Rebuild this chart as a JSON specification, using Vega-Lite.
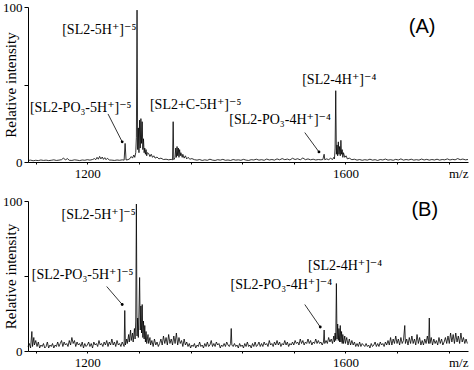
{
"$schema": "https://vega.github.io/schema/vega-lite/v6.json",
"background": "white",
"padding": {"left": 2, "top": 1, "right": 4, "bottom": 2},
"spacing": 15,
"config": {
  "view": {"stroke": null},
  "axis": {"labelFont": "Liberation Serif", "titleFont": "Liberation Serif", "labelColor": "black", "titleColor": "black", "domainColor": "black", "tickColor": "black", "grid": false, "labelFontSize": 13, "titleFontSize": 15, "titleFontWeight": "normal", "domainWidth": 1, "tickWidth": 1}
},
"datasets": {
  "a": [
    {"mz":1108,"i":1.0},{"mz":1112,"i":1.2},{"mz":1116,"i":0.8},{"mz":1120,"i":1.1},{"mz":1124,"i":0.9},{"mz":1128,"i":1.3},{"mz":1132,"i":1.0},{"mz":1136,"i":1.2},{"mz":1140,"i":0.9},{"mz":1144,"i":1.1},{"mz":1148,"i":1.4},{"mz":1152,"i":1.0},{"mz":1156,"i":1.2},{"mz":1160,"i":1.5},{"mz":1163,"i":2.6},{"mz":1166,"i":1.3},{"mz":1169,"i":2.2},{"mz":1172,"i":1.1},{"mz":1176,"i":1.0},{"mz":1180,"i":1.4},{"mz":1184,"i":1.2},{"mz":1188,"i":0.9},{"mz":1192,"i":1.3},{"mz":1196,"i":1.1},{"mz":1200,"i":1.5},{"mz":1204,"i":1.2},{"mz":1208,"i":1.6},{"mz":1211,"i":2.2},{"mz":1213,"i":1.5},{"mz":1215,"i":3.0},{"mz":1217,"i":1.8},{"mz":1219,"i":3.6},{"mz":1221,"i":2.0},{"mz":1223,"i":3.2},{"mz":1225,"i":1.7},{"mz":1227,"i":2.8},{"mz":1229,"i":1.5},{"mz":1231,"i":2.4},{"mz":1234,"i":1.3},{"mz":1238,"i":1.2},{"mz":1242,"i":1.0},{"mz":1246,"i":1.3},{"mz":1250,"i":1.1},{"mz":1254,"i":1.4},{"mz":1257,"i":1.2},{"mz":1258.5,"i":12},{"mz":1260,"i":1.3},{"mz":1263,"i":1.5},{"mz":1266,"i":2.2},{"mz":1268,"i":3.5},{"mz":1270,"i":2.5},{"mz":1272,"i":4.5},{"mz":1273.5,"i":3},{"mz":1275,"i":6},{"mz":1276,"i":16},{"mz":1277,"i":98},{"mz":1278,"i":8},{"mz":1279,"i":22},{"mz":1280,"i":6},{"mz":1281,"i":27},{"mz":1282,"i":9},{"mz":1283,"i":28},{"mz":1284,"i":12},{"mz":1285,"i":26},{"mz":1286,"i":8},{"mz":1287,"i":15},{"mz":1288,"i":6},{"mz":1289,"i":9},{"mz":1290,"i":5},{"mz":1291,"i":8},{"mz":1292,"i":4},{"mz":1293,"i":6},{"mz":1295,"i":5.5},{"mz":1297,"i":3.5},{"mz":1299,"i":5},{"mz":1301,"i":3},{"mz":1303,"i":4},{"mz":1305,"i":2.5},{"mz":1308,"i":3.2},{"mz":1311,"i":2},{"mz":1314,"i":2.5},{"mz":1318,"i":1.6},{"mz":1322,"i":1.8},{"mz":1326,"i":1.4},{"mz":1330,"i":1.7},{"mz":1332,"i":1.4},{"mz":1333,"i":26},{"mz":1334,"i":1.5},{"mz":1336,"i":3},{"mz":1337,"i":9},{"mz":1338,"i":3},{"mz":1339,"i":10},{"mz":1340,"i":4},{"mz":1341,"i":9},{"mz":1342,"i":3},{"mz":1343,"i":8},{"mz":1344,"i":4},{"mz":1345,"i":6},{"mz":1347,"i":3},{"mz":1348,"i":5},{"mz":1350,"i":2.5},{"mz":1352,"i":4},{"mz":1354,"i":2},{"mz":1356,"i":3},{"mz":1359,"i":1.8},{"mz":1362,"i":2.2},{"mz":1366,"i":1.5},
    {"mz":1370,"i":1.2},{"mz":1374,"i":1.6},{"mz":1378,"i":1.0},{"mz":1382,"i":1.4},{"mz":1386,"i":1.1},{"mz":1390,"i":1.8},{"mz":1394,"i":1.2},{"mz":1398,"i":1.0},{"mz":1402,"i":1.5},{"mz":1406,"i":1.2},{"mz":1410,"i":1.7},{"mz":1414,"i":1.1},{"mz":1418,"i":1.3},{"mz":1422,"i":1.0},{"mz":1426,"i":1.6},{"mz":1430,"i":1.2},{"mz":1434,"i":1.4},{"mz":1438,"i":1.1},{"mz":1442,"i":1.7},{"mz":1446,"i":1.2},{"mz":1450,"i":1.0},{"mz":1454,"i":1.5},{"mz":1458,"i":1.3},{"mz":1462,"i":1.8},{"mz":1466,"i":1.2},{"mz":1470,"i":1.5},{"mz":1474,"i":1.1},{"mz":1478,"i":1.9},{"mz":1482,"i":1.3},{"mz":1486,"i":1.6},{"mz":1490,"i":1.2},{"mz":1494,"i":2.0},{"mz":1498,"i":1.4},{"mz":1502,"i":2.2},{"mz":1506,"i":1.5},{"mz":1510,"i":1.9},{"mz":1514,"i":1.3},{"mz":1518,"i":2.4},{"mz":1522,"i":1.6},{"mz":1526,"i":2.1},{"mz":1530,"i":1.4},{"mz":1534,"i":2.6},{"mz":1538,"i":1.5},{"mz":1542,"i":2.0},{"mz":1546,"i":1.4},{"mz":1550,"i":1.8},{"mz":1554,"i":1.3},{"mz":1558,"i":1.6},{"mz":1562,"i":1.4},{"mz":1565,"i":1.6},{"mz":1567,"i":5.0},{"mz":1568,"i":1.5},{"mz":1571,"i":2.0},{"mz":1574,"i":1.5},{"mz":1577,"i":2.4},{"mz":1580,"i":1.6},{"mz":1582,"i":3.0},{"mz":1583,"i":2.0},{"mz":1584,"i":9},{"mz":1585,"i":46},{"mz":1586,"i":5},{"mz":1587,"i":11},{"mz":1588,"i":4},{"mz":1589,"i":13},{"mz":1590,"i":5},{"mz":1591,"i":10},{"mz":1592,"i":4},{"mz":1593,"i":14},{"mz":1594,"i":5},{"mz":1595,"i":8},{"mz":1596,"i":3},{"mz":1597,"i":6},{"mz":1599,"i":3},{"mz":1601,"i":4},{"mz":1603,"i":2},{"mz":1606,"i":2.5},{"mz":1610,"i":1.5},{"mz":1614,"i":1.8},{"mz":1618,"i":1.2},{"mz":1622,"i":1.6},{"mz":1626,"i":1.1},{"mz":1630,"i":1.5},{"mz":1634,"i":1.2},{"mz":1638,"i":1.8},{"mz":1642,"i":1.2},{"mz":1646,"i":1.5},{"mz":1650,"i":1.0},{"mz":1654,"i":1.6},{"mz":1658,"i":1.3},{"mz":1662,"i":1.9},{"mz":1666,"i":1.2},{"mz":1670,"i":1.5},{"mz":1674,"i":1.1},{"mz":1678,"i":1.7},{"mz":1682,"i":1.3},{"mz":1686,"i":2.0},{"mz":1690,"i":1.2},{"mz":1694,"i":1.6},{"mz":1698,"i":1.3},{"mz":1702,"i":1.8},{"mz":1706,"i":1.2},{"mz":1710,"i":1.5},{"mz":1714,"i":1.2},{"mz":1718,"i":1.9},{"mz":1722,"i":1.3},{"mz":1726,"i":1.7},{"mz":1730,"i":1.2},{"mz":1734,"i":1.6},{"mz":1738,"i":1.3},{"mz":1742,"i":1.8},{"mz":1746,"i":1.2},{"mz":1750,"i":1.6},{"mz":1754,"i":1.4},{"mz":1758,"i":2.0},{"mz":1762,"i":1.3},{"mz":1766,"i":1.7},{"mz":1770,"i":1.4},{"mz":1774,"i":2.2},{"mz":1778,"i":1.5},{"mz":1782,"i":1.9},{"mz":1786,"i":1.4},{"mz":1790,"i":1.6}
  ],
  "b": [
    {"mz":1108,"i":3},{"mz":1110,"i":5},{"mz":1112,"i":2},{"mz":1114,"i":13},{"mz":1115,"i":3},{"mz":1117,"i":9},{"mz":1118,"i":4},{"mz":1120,"i":7},{"mz":1122,"i":3},{"mz":1124,"i":6},{"mz":1126,"i":2},{"mz":1128,"i":4},{"mz":1130,"i":3},{"mz":1132,"i":5},{"mz":1134,"i":2},{"mz":1136,"i":3},{"mz":1138,"i":6},{"mz":1140,"i":2},{"mz":1142,"i":4},{"mz":1144,"i":3},{"mz":1146,"i":5},{"mz":1148,"i":2},{"mz":1150,"i":4},{"mz":1152,"i":3},{"mz":1154,"i":6},{"mz":1156,"i":3},{"mz":1158,"i":5},{"mz":1160,"i":7},{"mz":1162,"i":3},{"mz":1164,"i":6},{"mz":1166,"i":4},{"mz":1168,"i":5},{"mz":1170,"i":3},{"mz":1172,"i":7},{"mz":1174,"i":4},{"mz":1176,"i":9},{"mz":1178,"i":5},{"mz":1180,"i":7},{"mz":1182,"i":3},{"mz":1184,"i":6},{"mz":1186,"i":4},{"mz":1188,"i":5},{"mz":1190,"i":3},{"mz":1192,"i":6},{"mz":1194,"i":2},{"mz":1196,"i":5},{"mz":1198,"i":3},{"mz":1200,"i":4},{"mz":1202,"i":6},{"mz":1204,"i":3},{"mz":1206,"i":5},{"mz":1208,"i":2},{"mz":1210,"i":6},{"mz":1212,"i":4},{"mz":1214,"i":5},{"mz":1216,"i":3},{"mz":1218,"i":7},{"mz":1220,"i":4},{"mz":1222,"i":5},{"mz":1224,"i":3},{"mz":1226,"i":6},{"mz":1228,"i":4},{"mz":1230,"i":7},{"mz":1232,"i":3},{"mz":1234,"i":6},{"mz":1236,"i":4},{"mz":1238,"i":8},{"mz":1240,"i":4},{"mz":1242,"i":6},{"mz":1244,"i":3},{"mz":1246,"i":7},{"mz":1248,"i":4},{"mz":1250,"i":5},{"mz":1252,"i":3},{"mz":1254,"i":6},{"mz":1256,"i":4},{"mz":1257,"i":3},{"mz":1258,"i":27},{"mz":1259,"i":4},{"mz":1261,"i":8},{"mz":1262,"i":5},{"mz":1264,"i":11},{"mz":1265,"i":6},{"mz":1267,"i":14},{"mz":1268,"i":7},{"mz":1270,"i":12},{"mz":1271,"i":6},{"mz":1273,"i":15},{"mz":1274,"i":8},{"mz":1275,"i":20},{"mz":1276,"i":98},{"mz":1277,"i":10},{"mz":1278,"i":22},{"mz":1279,"i":9},{"mz":1280,"i":26},{"mz":1281,"i":49},{"mz":1282,"i":14},{"mz":1283,"i":30},{"mz":1284,"i":12},{"mz":1285,"i":31},{"mz":1286,"i":9},{"mz":1287,"i":20},{"mz":1288,"i":8},{"mz":1289,"i":17},{"mz":1290,"i":6},{"mz":1291,"i":13},{"mz":1292,"i":5},{"mz":1294,"i":11},{"mz":1295,"i":5},{"mz":1297,"i":9},{"mz":1298,"i":4},{"mz":1300,"i":7},{"mz":1302,"i":3},{"mz":1304,"i":8},{"mz":1306,"i":4},{"mz":1308,"i":6},{"mz":1310,"i":3},{"mz":1312,"i":5},{"mz":1314,"i":8},{"mz":1316,"i":4},{"mz":1318,"i":10},{"mz":1320,"i":5},{"mz":1322,"i":9},{"mz":1324,"i":4},{"mz":1326,"i":11},{"mz":1328,"i":5},{"mz":1330,"i":8},{"mz":1332,"i":4},{"mz":1334,"i":10},{"mz":1336,"i":5},{"mz":1338,"i":12},{"mz":1340,"i":4},{"mz":1342,"i":9},{"mz":1344,"i":5},{"mz":1346,"i":7},{"mz":1348,"i":3},{"mz":1350,"i":8},{"mz":1352,"i":4},{"mz":1354,"i":6},{"mz":1356,"i":3},{"mz":1358,"i":5},{"mz":1360,"i":2},{"mz":1362,"i":4},{"mz":1364,"i":3},{"mz":1366,"i":5},{"mz":1368,"i":2},{"mz":1370,"i":4},{"mz":1372,"i":3},{"mz":1374,"i":6},{"mz":1376,"i":3},{"mz":1378,"i":4},{"mz":1380,"i":2},{"mz":1382,"i":5},{"mz":1384,"i":3},{"mz":1386,"i":6},{"mz":1388,"i":3},{"mz":1390,"i":4},{"mz":1392,"i":7},{"mz":1394,"i":3},{"mz":1396,"i":5},{"mz":1398,"i":3},{"mz":1400,"i":6},{"mz":1402,"i":4},{"mz":1404,"i":5},{"mz":1406,"i":2},{"mz":1408,"i":4},{"mz":1410,"i":3},{"mz":1412,"i":5},{"mz":1414,"i":3},{"mz":1416,"i":6},{"mz":1418,"i":4},{"mz":1420,"i":3},{"mz":1422,"i":5},{"mz":1423,"i":15},{"mz":1424,"i":4},{"mz":1426,"i":3},{"mz":1428,"i":5},{"mz":1430,"i":3},{"mz":1432,"i":4},{"mz":1434,"i":2},{"mz":1436,"i":5},{"mz":1438,"i":3},{"mz":1440,"i":4},{"mz":1442,"i":2},{"mz":1444,"i":5},{"mz":1446,"i":3},{"mz":1448,"i":6},{"mz":1450,"i":3},{"mz":1452,"i":4},{"mz":1454,"i":2},{"mz":1456,"i":5},{"mz":1458,"i":3},{"mz":1460,"i":6},{"mz":1462,"i":3},{"mz":1464,"i":4},{"mz":1466,"i":6},{"mz":1468,"i":3},{"mz":1470,"i":5},{"mz":1472,"i":3},{"mz":1474,"i":6},{"mz":1476,"i":4},{"mz":1478,"i":5},{"mz":1480,"i":3},{"mz":1482,"i":7},{"mz":1484,"i":4},{"mz":1486,"i":5},{"mz":1488,"i":3},{"mz":1490,"i":6},{"mz":1492,"i":4},{"mz":1494,"i":7},{"mz":1496,"i":4},{"mz":1498,"i":6},{"mz":1500,"i":3},{"mz":1502,"i":5},{"mz":1504,"i":4},{"mz":1506,"i":7},{"mz":1508,"i":4},{"mz":1510,"i":6},{"mz":1512,"i":3},{"mz":1514,"i":5},{"mz":1516,"i":4},{"mz":1518,"i":6},{"mz":1520,"i":4},{"mz":1522,"i":7},{"mz":1524,"i":5},{"mz":1526,"i":6},{"mz":1528,"i":4},{"mz":1530,"i":8},{"mz":1532,"i":5},{"mz":1534,"i":7},{"mz":1536,"i":4},{"mz":1538,"i":6},{"mz":1540,"i":5},{"mz":1542,"i":8},{"mz":1544,"i":5},{"mz":1546,"i":7},{"mz":1548,"i":4},{"mz":1550,"i":6},{"mz":1552,"i":5},{"mz":1554,"i":8},{"mz":1556,"i":5},{"mz":1558,"i":7},{"mz":1560,"i":5},{"mz":1562,"i":6},{"mz":1564,"i":4},{"mz":1566,"i":6},{"mz":1567,"i":14},{"mz":1568,"i":5},{"mz":1570,"i":7},{"mz":1572,"i":5},{"mz":1574,"i":9},{"mz":1576,"i":6},{"mz":1578,"i":8},{"mz":1580,"i":5},{"mz":1582,"i":10},{"mz":1583,"i":6},{"mz":1584,"i":12},{"mz":1585,"i":7},{"mz":1586,"i":45},{"mz":1587,"i":8},{"mz":1588,"i":18},{"mz":1589,"i":7},{"mz":1590,"i":15},{"mz":1591,"i":6},{"mz":1592,"i":17},{"mz":1593,"i":6},{"mz":1594,"i":13},{"mz":1595,"i":5},{"mz":1596,"i":11},{"mz":1597,"i":5},{"mz":1599,"i":10},{"mz":1600,"i":5},{"mz":1602,"i":9},{"mz":1604,"i":4},{"mz":1606,"i":8},{"mz":1608,"i":4},{"mz":1610,"i":7},{"mz":1612,"i":4},{"mz":1614,"i":6},{"mz":1616,"i":3},{"mz":1618,"i":5},{"mz":1620,"i":3},{"mz":1622,"i":6},{"mz":1624,"i":3},{"mz":1626,"i":5},{"mz":1628,"i":4},{"mz":1630,"i":3},{"mz":1632,"i":5},{"mz":1634,"i":3},{"mz":1636,"i":4},{"mz":1638,"i":2},{"mz":1640,"i":5},{"mz":1642,"i":3},{"mz":1644,"i":4},{"mz":1646,"i":6},{"mz":1648,"i":3},{"mz":1650,"i":5},{"mz":1652,"i":3},{"mz":1654,"i":6},{"mz":1656,"i":4},{"mz":1658,"i":5},{"mz":1660,"i":3},{"mz":1662,"i":6},{"mz":1664,"i":4},{"mz":1666,"i":7},{"mz":1668,"i":4},{"mz":1670,"i":9},{"mz":1672,"i":4},{"mz":1674,"i":8},{"mz":1676,"i":5},{"mz":1678,"i":10},{"mz":1680,"i":5},{"mz":1682,"i":8},{"mz":1684,"i":4},{"mz":1686,"i":9},{"mz":1688,"i":5},{"mz":1690,"i":7},{"mz":1692,"i":17},{"mz":1693,"i":5},{"mz":1695,"i":8},{"mz":1697,"i":4},{"mz":1699,"i":9},{"mz":1701,"i":5},{"mz":1703,"i":10},{"mz":1705,"i":5},{"mz":1707,"i":8},{"mz":1709,"i":4},{"mz":1711,"i":11},{"mz":1713,"i":5},{"mz":1715,"i":9},{"mz":1717,"i":4},{"mz":1719,"i":7},{"mz":1721,"i":4},{"mz":1723,"i":8},{"mz":1725,"i":5},{"mz":1727,"i":10},{"mz":1729,"i":5},{"mz":1730,"i":22},{"mz":1731,"i":5},{"mz":1733,"i":9},{"mz":1735,"i":4},{"mz":1737,"i":8},{"mz":1739,"i":5},{"mz":1741,"i":7},{"mz":1743,"i":4},{"mz":1745,"i":9},{"mz":1747,"i":5},{"mz":1749,"i":8},{"mz":1751,"i":4},{"mz":1753,"i":6},{"mz":1755,"i":9},{"mz":1757,"i":5},{"mz":1759,"i":10},{"mz":1761,"i":5},{"mz":1763,"i":12},{"mz":1765,"i":6},{"mz":1767,"i":11},{"mz":1769,"i":5},{"mz":1771,"i":12},{"mz":1773,"i":6},{"mz":1775,"i":10},{"mz":1777,"i":5},{"mz":1779,"i":12},{"mz":1781,"i":6},{"mz":1783,"i":9},{"mz":1785,"i":5},{"mz":1787,"i":8},{"mz":1789,"i":5}
  ],
  "labA": [
    {"mz":1161,"i":85,"label":"[SL2-5H⁺]⁻⁵"},
    {"mz":1111,"i":35,"label":"[SL2-PO₃-5H⁺]⁻⁵"},
    {"mz":1297,"i":37,"label":"[SL2+C-5H⁺]⁻⁵"},
    {"mz":1533,"i":53,"label":"[SL2-4H⁺]⁻⁴"},
    {"mz":1420,"i":27,"label":"[SL2-PO₃-4H⁺]⁻⁴"}
  ],
  "labB": [
    {"mz":1160,"i":91,"label":"[SL2-5H⁺]⁻⁵"},
    {"mz":1114,"i":51,"label":"[SL2-PO₃-5H⁺]⁻⁵"},
    {"mz":1542,"i":57,"label":"[SL2-4H⁺]⁻⁴"},
    {"mz":1422,"i":44,"label":"[SL2-PO₃-4H⁺]⁻⁴"}
  ],
  "arrA": [
    {"mz":1232,"i":31,"mz2":1254,"i2":13},
    {"mz":1537,"i":19,"mz2":1559,"i2":6.5}
  ],
  "arrB": [
    {"mz":1230,"i":43,"mz2":1254,"i2":31},
    {"mz":1537,"i":31,"mz2":1561,"i2":16}
  ],
  "tagA": [{"mz":1719,"i":87,"label":"(A)"}],
  "tagB": [{"mz":1723,"i":94,"label":"(B)"}]
},
"vconcat": [
  {
    "width": 440, "height": 155,
    "layer": [
      {"data": {"name": "a"}, "mark": {"type": "line", "color": "black", "strokeWidth": 0.8},
       "encoding": {
         "x": {"field": "mz", "type": "quantitative", "scale": {"domain": [1108, 1790], "nice": false, "zero": false},
               "axis": {"title": "m/z", "values": [1120,1140,1160,1180,1200,1220,1240,1260,1280,1300,1320,1340,1360,1380,1400,1420,1440,1460,1480,1500,1520,1540,1560,1580,1600,1620,1640,1660,1680,1700,1720,1740,1760,1780], "format": "d", "labelExpr": "datum.value % 200 == 0 ? datum.label : ''", "tickSize": 2, "labelPadding": 3, "titleFontSize": 13, "titleX": 440, "titleY": 5, "titleAlign": "right", "titleBaseline": "top", "titleAnchor": "end"}},
         "y": {"field": "i", "type": "quantitative", "scale": {"domain": [0, 100], "nice": false},
               "axis": {"title": "Relative intensity", "values": [0, 50, 100], "labelExpr": "datum.value == 50 ? '' : datum.label", "tickSize": 4, "labelPadding": 2, "titleX": -10, "titleBaseline": "bottom"}}
       }},
      {"data": {"name": "labA"}, "mark": {"type": "text", "align": "left", "baseline": "middle", "font": "Liberation Serif, DejaVu Serif", "fontSize": 14, "color": "black"},
       "encoding": {"x": {"field": "mz", "type": "quantitative"}, "y": {"field": "i", "type": "quantitative"}, "text": {"field": "label"}}},
      {"data": {"name": "arrA"}, "mark": {"type": "rule", "color": "black", "strokeWidth": 0.8},
       "encoding": {"x": {"field": "mz", "type": "quantitative"}, "y": {"field": "i", "type": "quantitative"}, "x2": {"field": "mz2"}, "y2": {"field": "i2"}}},
      {"data": {"name": "arrA"}, "mark": {"type": "point", "filled": true, "color": "black", "size": 8, "opacity": 1},
       "encoding": {"x": {"field": "mz2", "type": "quantitative"}, "y": {"field": "i2", "type": "quantitative"}}},
      {"data": {"name": "tagA"}, "mark": {"type": "text", "align": "center", "baseline": "middle", "font": "Liberation Sans", "fontSize": 20, "color": "black"},
       "encoding": {"x": {"field": "mz", "type": "quantitative"}, "y": {"field": "i", "type": "quantitative"}, "text": {"field": "label"}}}
    ]
  },
  {
    "width": 440, "height": 150,
    "layer": [
      {"data": {"name": "b"}, "mark": {"type": "line", "color": "black", "strokeWidth": 0.8},
       "encoding": {
         "x": {"field": "mz", "type": "quantitative", "scale": {"domain": [1108, 1790], "nice": false, "zero": false},
               "axis": {"title": "m/z", "values": [1120,1140,1160,1180,1200,1220,1240,1260,1280,1300,1320,1340,1360,1380,1400,1420,1440,1460,1480,1500,1520,1540,1560,1580,1600,1620,1640,1660,1680,1700,1720,1740,1760,1780], "format": "d", "labelExpr": "datum.value % 200 == 0 ? datum.label : ''", "tickSize": 2, "labelPadding": 3, "titleFontSize": 13, "titleX": 440, "titleY": 5, "titleAlign": "right", "titleBaseline": "top", "titleAnchor": "end"}},
         "y": {"field": "i", "type": "quantitative", "scale": {"domain": [0, 100], "nice": false},
               "axis": {"title": "Relative intensity", "values": [0, 50, 100], "labelExpr": "datum.value == 50 ? '' : datum.label", "tickSize": 4, "labelPadding": 2, "titleX": -10, "titleBaseline": "bottom"}}
       }},
      {"data": {"name": "labB"}, "mark": {"type": "text", "align": "left", "baseline": "middle", "font": "Liberation Serif, DejaVu Serif", "fontSize": 14, "color": "black"},
       "encoding": {"x": {"field": "mz", "type": "quantitative"}, "y": {"field": "i", "type": "quantitative"}, "text": {"field": "label"}}},
      {"data": {"name": "arrB"}, "mark": {"type": "rule", "color": "black", "strokeWidth": 0.8},
       "encoding": {"x": {"field": "mz", "type": "quantitative"}, "y": {"field": "i", "type": "quantitative"}, "x2": {"field": "mz2"}, "y2": {"field": "i2"}}},
      {"data": {"name": "arrB"}, "mark": {"type": "point", "filled": true, "color": "black", "size": 8, "opacity": 1},
       "encoding": {"x": {"field": "mz2", "type": "quantitative"}, "y": {"field": "i2", "type": "quantitative"}}},
      {"data": {"name": "tagB"}, "mark": {"type": "text", "align": "center", "baseline": "middle", "font": "Liberation Sans", "fontSize": 20, "color": "black"},
       "encoding": {"x": {"field": "mz", "type": "quantitative"}, "y": {"field": "i", "type": "quantitative"}, "text": {"field": "label"}}}
    ]
  }
]
}
